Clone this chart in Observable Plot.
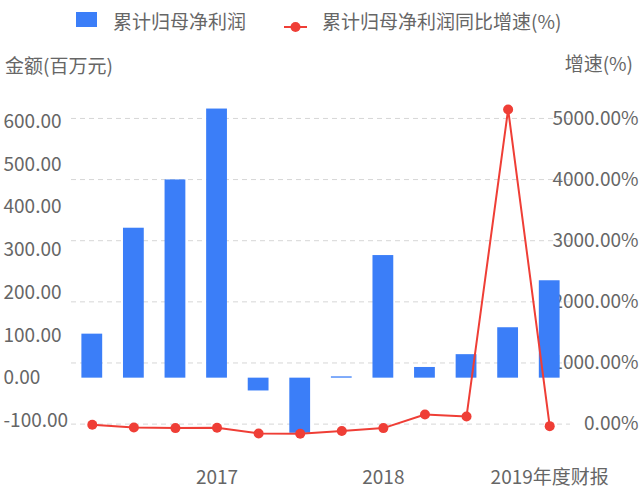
<!DOCTYPE html>
<html>
<head>
<meta charset="utf-8">
<script src="https://cdn.jsdelivr.net/npm/d3@7"></script>
<script src="https://cdn.jsdelivr.net/npm/@observablehq/plot@0.6"></script>
<style>
  body { margin: 0; background: #fff; font-family: "Noto Sans CJK SC", "Noto Sans", sans-serif; }
  #wrap { width: 640px; position: relative; }
  #head { position: relative; height: 80px; color: #666; font-size: 19px; line-height: 24px; }
  #head span, #head div { position: absolute; white-space: nowrap; }
</style>
</head>
<body>
<div id="wrap">
  <div id="head">
    <div style="left:76px;top:12px;width:21px;height:15px;background:#3b7ef8;"></div>
    <span style="left:113px;top:9px;">累计归母净利润</span>
    <div style="left:284px;top:14px;width:23px;height:14px;">
      <svg width="23" height="14"><line x1="0" y1="7" x2="23" y2="7" stroke="#ef3e36" stroke-width="2"/><circle cx="11.5" cy="7" r="5" fill="#ef3e36"/></svg>
    </div>
    <span style="left:322px;top:9px;">累计归母净利润同比增速(%)</span>
    <span style="left:5px;top:53px;">金额(百万元)</span>
    <span style="right:7px;top:51px;">增速(%)</span>
  </div>
  <div id="chart"></div>
</div>
<script>
// Categories (cumulative reporting periods)
const categories = ["2017Q1", "2017H1", "2017Q3", "2017", "2018Q1", "2018H1", "2018Q3", "2018", "2019Q1", "2019H1", "2019Q3", "2019年度财报"];
// 累计归母净利润 (百万元)
const profit = [103, 351, 464, 630, -30, -129, 3, 287, 25, 55, 118, 228];
// 累计归母净利润同比增速 (%)
const growth = [-10, -55, -65, -60, -153, -158, -112, -65, 158, 125, 5147, -33];
// Tick labels
const xTickLabels = ["2017", "2018", "2019年度财报"];
const leftTicks = [-100, 0, 100, 200, 300, 400, 500, 600];
const rightTicks = [0, 1000, 2000, 3000, 4000, 5000];

const blue = "#3b7ef8";
const red = "#ef3e36";

// secondary (right) axis mapped onto the left axis units
const pct = d3.scaleLinear().domain([0, 5000]).range([-107.6, 608]);

const data = categories.map((c, i) => ({cat: c, profit: profit[i], growth: growth[i]}));

const chart = Plot.plot({
  width: 640,
  height: 413,
  marginLeft: 71,
  marginRight: 70,
  marginTop: 20,
  marginBottom: 47,
  x: {domain: categories, paddingInner: 0.5, paddingOuter: 0.25, round: false, label: null},
  y: {domain: [-160, 650], label: null},
  style: {fontFamily: "'Noto Sans CJK SC', 'Noto Sans', sans-serif", fontSize: "19px", color: "#666", background: "#fff"},
  marks: [
    Plot.gridY(rightTicks.map(pct), {stroke: "#d6d6d6", strokeOpacity: 1, strokeDasharray: "5,4"}),
    Plot.text(leftTicks, {y: d => d, frameAnchor: "left", textAnchor: "start", dx: -68, text: d => d.toFixed(2), fill: "#666", fontSize: 19}),
    Plot.axisY(rightTicks.map(pct), {anchor: "right", tickSize: 0, textAnchor: "end", dx: 59, tickFormat: d => Math.round(pct.invert(d)).toFixed(2) + "%", fill: "#666"}),
    Plot.axisX(xTickLabels, {anchor: "bottom", tickSize: 0, tickPadding: 24, fill: "#666"}),
    Plot.barY(data, {x: "cat", y: "profit", fill: blue}),
    Plot.line(data, {x: "cat", y: d => pct(d.growth), stroke: red, strokeWidth: 2}),
    Plot.dot(data, {x: "cat", y: d => pct(d.growth), r: 5, fill: red})
  ]
});
document.getElementById("chart").appendChild(chart);
</script>
</body>
</html>
